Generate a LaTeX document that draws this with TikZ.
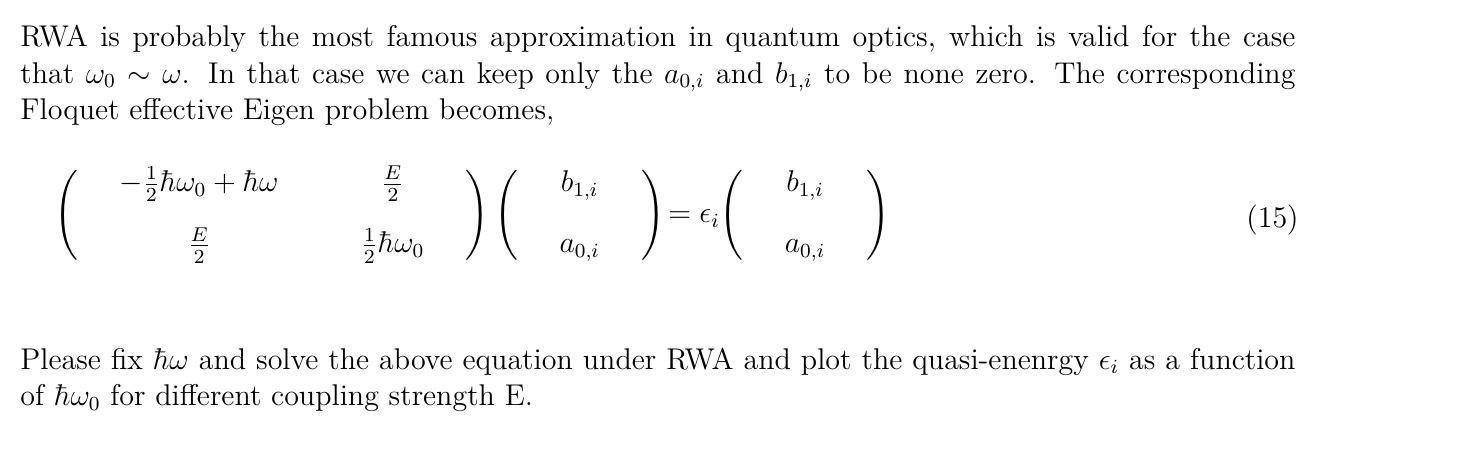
\documentclass[tikz,border=0pt,12pt]{standalone}
\usepackage{amsmath}
\begin{document}
\begin{tikzpicture}[x=1pt,y=1pt,txt/.style={anchor=north west,inner sep=0pt,text width=510pt,align=justify}]
\useasboundingbox (0,0) rectangle (592,-185.6);
\node[txt] (p1) at (8,-10) {RWA is probably the most famous approximation in quantum optics, which is valid for the case\linebreak
that $\omega_0\sim\omega$. In that case we can keep only the $a_{0,i}$ and $b_{1,i}$ to be none zero. The corresponding\linebreak
Floquet effective Eigen problem becomes,};
\node[inner sep=0pt] (eq) at (189,-86) {\setlength{\arraycolsep}{16.5pt}$\displaystyle
\left(\begin{array}{cc}-\frac{1}{2}\hbar\omega_0+\hbar\omega & \frac{E}{2}\\[10pt] \frac{E}{2} & \frac{1}{2}\hbar\omega_0\end{array}\right)
\left(\begin{array}{c} b_{1,i}\\[10pt] a_{0,i}\end{array}\right)
\!=\epsilon_i\!\left(\begin{array}{c} b_{1,i}\\[10pt] a_{0,i}\end{array}\right)$};
\node[inner sep=0pt] (num) at (509,-88) {(15)};
\node[txt] (p2) at (8,-139) {Please fix $\hbar\omega$ and solve the above equation under RWA and plot the quasi-enenrgy $\epsilon_i$ as a function\linebreak
of $\hbar\omega_0$ for different coupling strength E.};
\end{tikzpicture}
\end{document}
